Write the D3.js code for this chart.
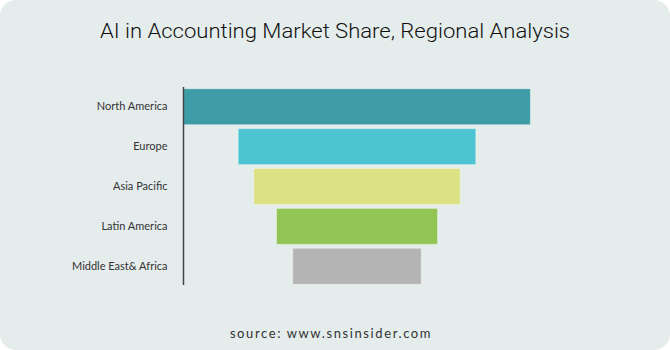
<!DOCTYPE html>
<meta charset="utf-8">
<script src="https://d3js.org/d3.v7.min.js"></script>
<style>
  body { margin: 0; background: #fff; }
</style>
<div id="my_dataviz"></div>
<script>
    // regional share (%)
    var regions = ["North America", "Europe", "Asia Pacific", "Latin America", "Middle East& Africa"];
    var shares = [32.1, 22.0, 19.1, 14.9, 11.9];
    var colors = ["#3d9ca6", "#4cc4d2", "#dce283", "#92c554", "#b3b4b3"];

    var W = 670, H = 350;
    var centerX = 357;

    var svg = d3.select("#my_dataviz")
        .append("svg")
        .attr("width", W)
        .attr("height", H);

    // panel background
    svg.append("rect")
        .attr("x", 0).attr("y", 0)
        .attr("width", W).attr("height", H)
        .attr("rx", 16).attr("ry", 16)
        .style("fill", "#e4ecec");

    // title
    svg.append("text")
        .attr("x", 335)
        .attr("y", 38)
        .attr("text-anchor", "middle")
        .attr("textLength", 470)
        .attr("lengthAdjust", "spacingAndGlyphs")
        .style("font-family", "Roboto, sans-serif")
        .style("font-weight", 300)
        .style("font-size", "20px")
        .style("fill", "#111")
        .text("AI in Accounting Market Share, Regional Analysis");

    // scales
    var y = d3.scaleBand()
        .domain(regions)
        .range([88, 285])
        .paddingInner(0.1)
        .paddingOuter(0.02);

    var w = d3.scaleLinear()
        .domain([0, d3.max(shares)])
        .range([0, 346.7]);

    // funnel bars, centred on one line
    svg.append("g")
        .selectAll("rect")
        .data(regions)
        .enter()
        .append("rect")
        .attr("x", function (d, i) { return centerX - w(shares[i]) / 2; })
        .attr("y", function (d) { return y(d); })
        .attr("width", function (d, i) { return w(shares[i]); })
        .attr("height", y.bandwidth())
        .style("fill", function (d, i) { return colors[i]; })
        .style("stroke", "#ffffff")
        .style("stroke-opacity", 0.35)
        .style("stroke-width", 1);

    // left axis (line only) and labels
    var axis = svg.append("g")
        .attr("transform", "translate(183.5,0)")
        .call(d3.axisLeft(y).tickSize(0).tickPadding(16));
    axis.select(".domain")
        .attr("d", "M0,87V285")
        .style("stroke", "#444")
        .style("stroke-width", 1.5);
    axis.selectAll("text")
        .style("font-family", "Lato, sans-serif")
        .style("font-size", "11px")
        .style("fill", "#333");

    // source
    svg.append("text")
        .attr("x", 331)
        .attr("y", 338)
        .attr("text-anchor", "middle")
        .style("font-family", "Lato, sans-serif")
        .style("font-size", "13px")
        .style("letter-spacing", "1.6px")
        .style("fill", "#333")
        .text("source: www.snsinsider.com");
</script>
